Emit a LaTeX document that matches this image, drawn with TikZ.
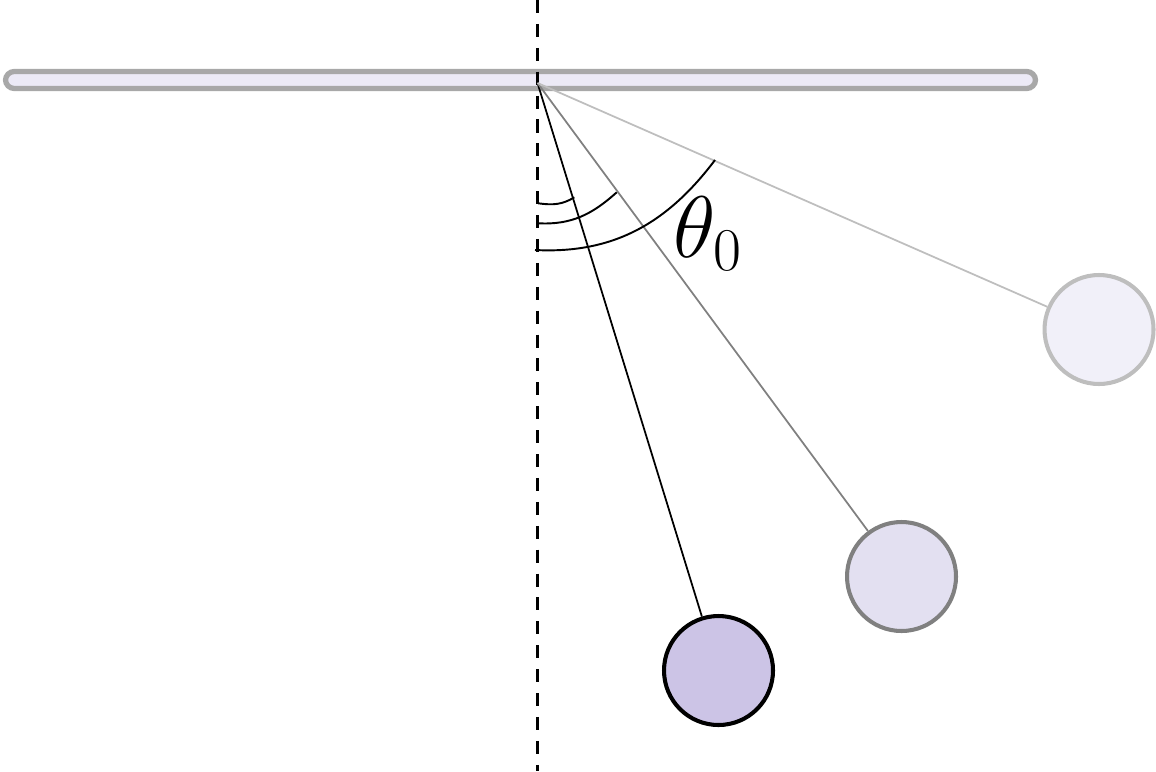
\documentclass[tikz,border=0pt]{standalone}
\usepackage{tikz}
\usepackage{amssymb}

\definecolor{barfill}{RGB}{236,234,246}
\definecolor{bargray}{RGB}{168,168,168}
\definecolor{fillA}{RGB}{204,196,230}
\definecolor{fillB}{RGB}{227,224,241}
\definecolor{fillC}{RGB}{241,240,249}
\definecolor{grayB}{RGB}{128,128,128}
\definecolor{grayC}{RGB}{190,190,190}

\begin{document}
\begin{tikzpicture}[bob/.style={circle,draw,line width=1.15pt,minimum size=1.09cm,inner sep=0pt},
    cord/.style={line width=0.5pt},
    mark arc/.style={line width=0.55pt}]
    \useasboundingbox (0,0) rectangle (11.56,-7.71);

    \coordinate (pivot) at (5.375,-0.83);
    \coordinate (top) at (5.375,0);
    \coordinate (bottom) at (5.375,-7.71);

    % ceiling
    \draw[line width=1.5pt,draw=bargray,fill=barfill,rounded corners=2.5pt]
        (0.055,-0.715) rectangle (10.355,-0.885);

    \draw[line width=0.6pt,dash pattern=on 3.7pt off 3.1pt] (top) -- (bottom);

    \node[bob,draw=black,fill=fillA] (bobA) at (7.185,-6.705) {};
    \node[bob,draw=grayB,fill=fillB] (bobB) at (9.015,-5.765) {};
    \node[bob,draw=grayC,fill=fillC] (bobC) at (10.99,-3.295) {};

    \draw[cord,black] (pivot) -- (bobA);
    \draw[cord,grayB] (pivot) -- (bobB);
    \draw[cord,grayC] (pivot) -- (bobC);

    % angle marks
    \draw[mark arc] (5.383,-2.033) to[out=-8,in=212] (5.743,-1.973);
    \draw[mark arc] (5.383,-2.233) to[out=-3,in=222] (6.167,-1.923);
    \draw[mark arc] (5.35,-2.50) to[out=-3,in=233] (7.15,-1.60);

    \node[font=\fontsize{26}{30}\selectfont] (theta) at (7.08,-2.34) {$\theta_0$};
\end{tikzpicture}
\end{document}
